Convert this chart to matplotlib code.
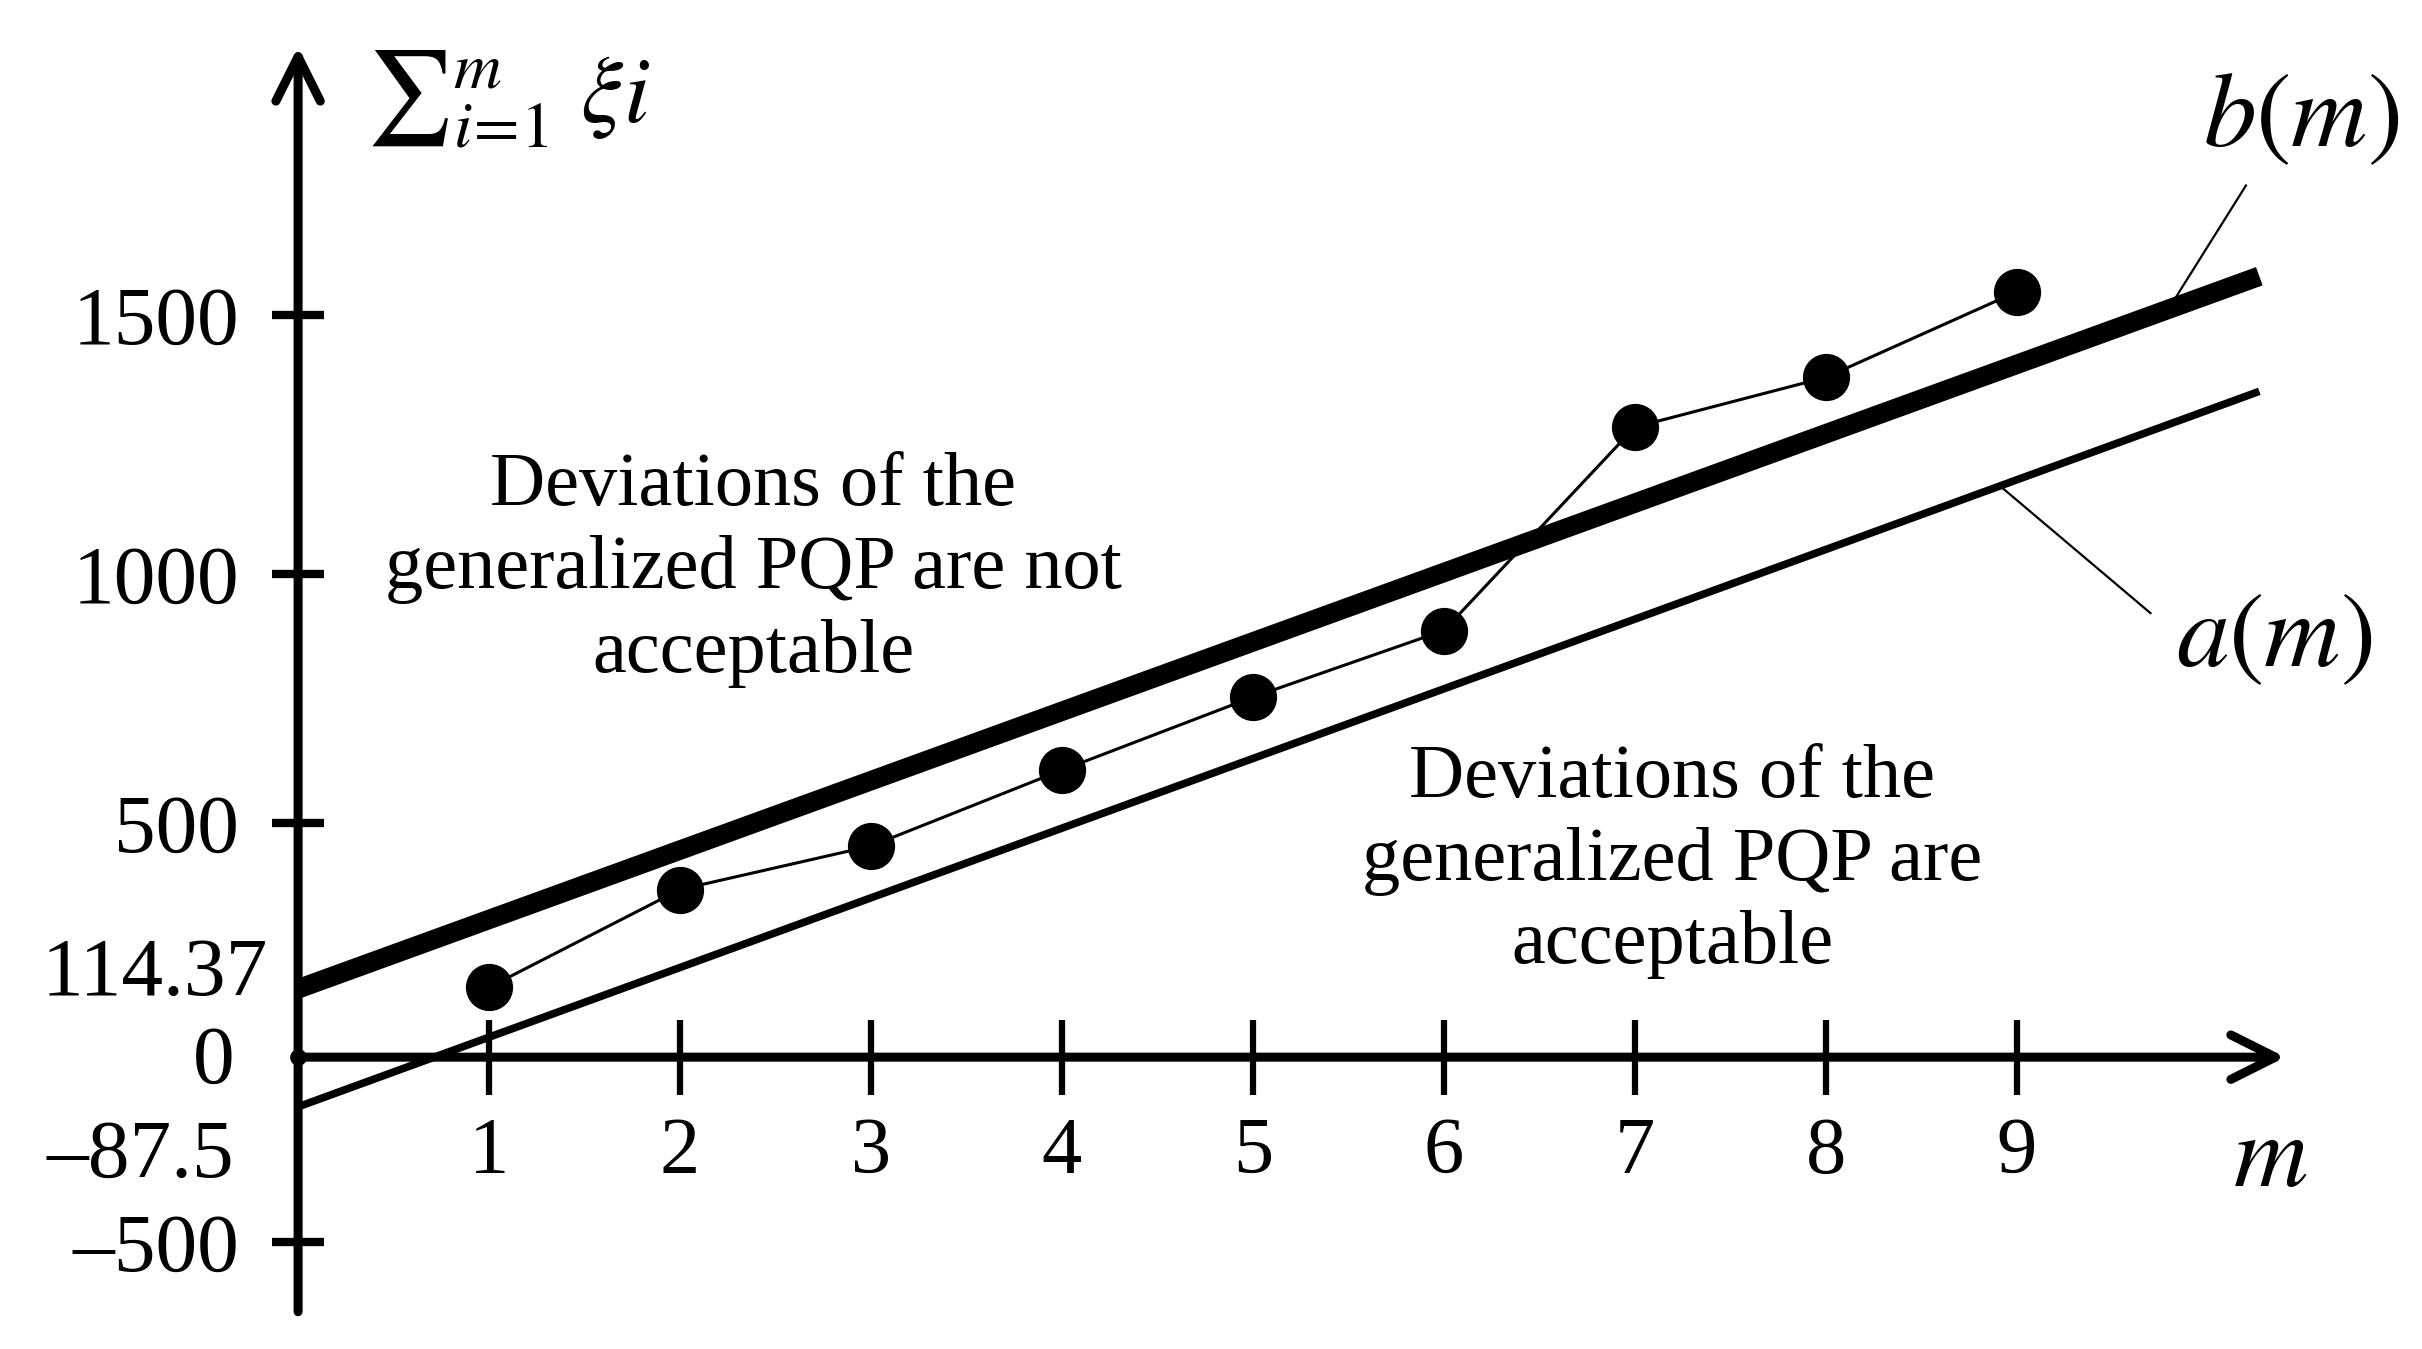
import numpy as np
import matplotlib
matplotlib.use('Agg')
import matplotlib.pyplot as plt

plt.rcParams['font.family'] = ['Liberation Serif', 'DejaVu Serif']
plt.rcParams['mathtext.fontset'] = 'stix'

# data
m_points = [1, 2, 3, 4, 5, 6, 7, 8, 9]
sum_xi = [118, 345, 446, 606, 753, 887, 1284, 1380, 1545]

m_line = [0, 10.27]
b_line = [114.37, 1575]
a_line = [-87.5, 1353]

x_ticks = [1, 2, 3, 4, 5, 6, 7, 8, 9]
y_ticks = [1500, 1000, 500, -500]
y_ticklabels = ['1500', '1000', '500', '\u2013500']
extra_vals = [114.37, 0, -87.5]
extra_labels = ['114.37', '0', '\u201387.5']

# the drawing is not to scale below zero: piecewise linear y scale
# (knot values -> vertical position in a 869 px tall frame)
kv = np.array([-2000, -500, -87.5, 0, 114.37, 500, 1000, 1500, 3000])
ky = np.array([1157, 800, 713, 681, 637, 530, 370, 203, -298], dtype=float)


def fwd(v):
    return -np.interp(v, kv, ky)


def inv(p):
    return np.interp(p, -ky, kv)


W, H = 1560, 869
x0, sx = 192, 123

fig = plt.figure(figsize=(24.22, 13.49), dpi=100)
ax = fig.add_axes([0, 0, 1, 1])
ax.set_yscale('function', functions=(fwd, inv))
ax.set_xlim((0 - x0) / sx, (W - x0) / sx)
ax.set_ylim(inv(-H), inv(0))

for s in ['top', 'right']:
    ax.spines[s].set_visible(False)
ax.spines['left'].set_position(('data', 0))
ax.spines['bottom'].set_position(('data', 0))
ax.spines['left'].set_color('none')
ax.spines['bottom'].set_color('none')

# axes with arrows
y_bot = inv(-845)
y_top = inv(-30)
x_tip = (1472 - x0) / sx
ax.annotate('', xy=(0, y_top), xytext=(0, y_bot),
            arrowprops=dict(arrowstyle='->', lw=6.5, mutation_scale=80,
                            shrinkA=0, shrinkB=0, color='black'))
ax.annotate('', xy=(x_tip, 0), xytext=(0, 0),
            arrowprops=dict(arrowstyle='->', lw=6.5, mutation_scale=80,
                            shrinkA=0, shrinkB=0, color='black'))
ax.plot([0], [0], 'o', color='black', ms=11)

ax.set_xticks(x_ticks)
ax.set_xticklabels([str(t) for t in x_ticks])
ax.set_yticks(y_ticks)
ax.set_yticklabels(y_ticklabels)
ax.tick_params(axis='x', direction='inout', length=54, width=4.5,
               labelsize=58, pad=16)
ax.tick_params(axis='y', direction='inout', length=37, width=6,
               labelsize=60, pad=24)

for v, lab, dx, dy in zip(extra_vals, extra_labels, [-22, -46, -46], [10, -4, -36]):
    ax.annotate(lab, xy=(0, v), xytext=(dx, dy), textcoords='offset points',
                ha='right', va='center', fontsize=60)

# boundary lines and data
ax.plot(m_line, b_line, color='black', lw=14, solid_capstyle='butt')
ax.plot(m_line, a_line, color='black', lw=5.5, solid_capstyle='butt')
ax.plot(m_points, sum_xi, color='black', lw=2.2, marker='o', ms=33, zorder=5)

# labels
ax.text(236 / W, 1 - 64 / H, r'${\sum}_{i\!=\!1}^{m}\ \xi i$', transform=ax.transAxes,
        fontsize=68, ha='left', va='center')
ax.text(1482 / W, 1 - 78 / H, r'$b(m)$', transform=ax.transAxes,
        fontsize=76, ha='center', va='center')
ax.text(1465 / W, 1 - 413 / H, r'$a(m)$', transform=ax.transAxes,
        fontsize=76, ha='center', va='center')
ax.text(1462 / W, 1 - 748 / H, r'$m$', transform=ax.transAxes,
        fontsize=74, ha='center', va='center')

ax.plot([10.2, 9.8], [1750, 1515], color='black', lw=1.6)
ax.plot([9.70, 8.93], [922, 1165], color='black', lw=1.6)

ax.text(485 / W, 1 - 367 / H,
        'Deviations of the\ngeneralized PQP are not\nacceptable',
        transform=ax.transAxes, fontsize=55, ha='center', va='center',
        linespacing=1.27)
ax.text(1077 / W, 1 - 555 / H,
        'Deviations of the\ngeneralized PQP are\nacceptable',
        transform=ax.transAxes, fontsize=55, ha='center', va='center',
        linespacing=1.27)

plt.savefig('out.png', dpi=100)
